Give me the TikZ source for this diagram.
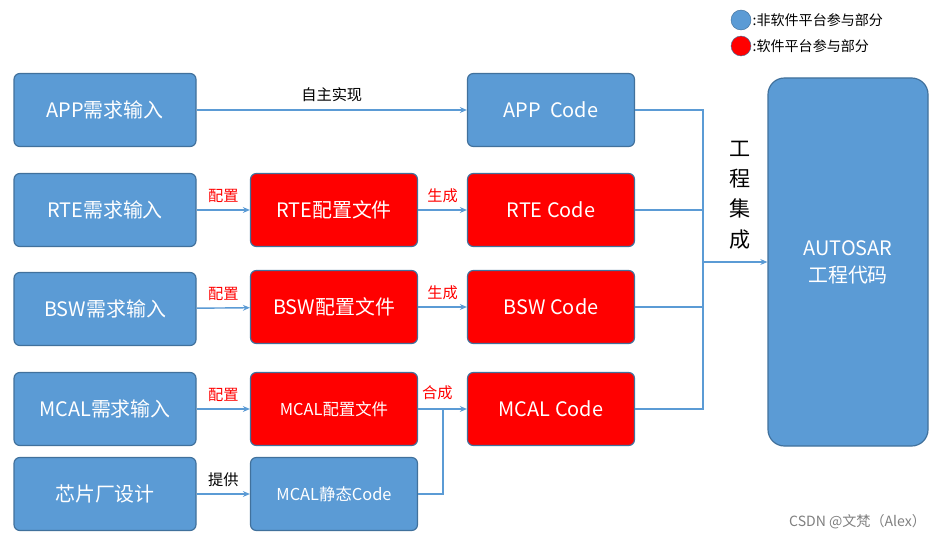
\documentclass[tikz,border=0pt]{standalone}
\usepackage{fontspec}
\setmainfont{Noto Sans CJK SC}
\usetikzlibrary{arrows.meta}
\definecolor{bl}{HTML}{5B9BD5}
\definecolor{bd}{HTML}{41719C}
\definecolor{ln}{HTML}{5B9BD5}
\begin{document}
\begin{tikzpicture}[x=0.03cm,y=-0.03cm,
 box/.style={draw=bd,line width=1pt,rounded corners=5pt,fill=bl,text=white,inner sep=0pt,font=\fontsize{17}{19}\selectfont},
 rbox/.style={box,fill=red},
 w1/.style={minimum width=182*0.03cm,minimum height=73*0.03cm},
 w2/.style={minimum width=167*0.03cm,minimum height=73*0.03cm},
 ar/.style={draw=ln,line width=1.2pt,-{Stealth[length=6pt,width=5pt]}},
 ln/.style={draw=ln,line width=1.2pt},
 lab/.style={font=\fontsize{13}{15}\selectfont},
 rlab/.style={lab,text=red}]
\useasboundingbox[fill=white] (0,0) rectangle (937,537);
\node[box,w1] (a1) at (105,110) {APP需求输入};
\node[box,w1] (a2) at (105,210) {RTE需求输入};
\node[box,w1] (a3) at (105,309) {BSW需求输入};
\node[box,w1] (a4) at (105,409) {MCAL需求输入};
\node[box,w1] (a5) at (105,494) {芯片厂设计};
\node[rbox,w2] (b2) at (334,210) {RTE配置文件};
\node[rbox,w2] (b3) at (334,307) {BSW配置文件};
\node[rbox,w2,font=\fontsize{14}{16}\selectfont] (b4) at (334,409) {MCAL配置文件};
\node[box,w2,font=\fontsize{14}{16}\selectfont] (b5) at (334,494) {MCAL静态Code};
\node[box,w2] (c1) at (551,110) {APP\ \ Code};
\node[rbox,w2] (c2) at (551,210) {RTE Code};
\node[rbox,w2] (c3) at (551,307) {BSW Code};
\node[rbox,w2] (c4) at (551,409) {MCAL Code};
\node[box,minimum width=160*0.03cm,minimum height=368*0.03cm,rounded corners=14pt,align=center,font=\fontsize{17}{23}\selectfont] (d) at (848,262) {AUTOSAR\\工程代码};
\draw[ar] (a1) -- node[lab,above=3pt,text=black]{自主实现} (c1);
\draw[ar] (a2) -- node[rlab,above=2pt]{配置} (b2);
\draw[ar] (a3) -- node[rlab,above=2pt]{配置} (b3);
\draw[ar] (a4) -- node[rlab,above=2pt]{配置} (b4);
\draw[ar] (a5) -- node[lab,above=2pt,text=black]{提供} (b5);
\draw[ar] (b2) -- node[rlab,above=2pt]{生成} (c2);
\draw[ar] (b3) -- node[rlab,above=2pt]{生成} (c3);
\coordinate (m) at (443,409);
\draw[ar] (b4) -- node[rlab,above=4pt,pos=0.3,xshift=4pt]{合成} (c4);
\draw[ln] (b5.east) -- (443,494) -- (m);
\coordinate (j) at (703,262);
\draw[ln] (c1.east) -- (703,110) -- (703,409) -- (c4.east);
\draw[ln] (c2.east) -- (703,210);
\draw[ln] (c3.east) -- (703,307);
\draw[ar] (j) -- (d);
\node[align=center,font=\fontsize{18}{26}\selectfont] (t) at (740,195) {工\\程\\集\\成};
\node[circle,fill=bl,draw=bd,minimum size=17pt,inner sep=0pt] (l1) at (741,20) {};
\node[circle,fill=red,draw=bd,minimum size=17pt,inner sep=0pt] (l2) at (741,46) {};
\node[anchor=west,font=\fontsize{12}{14}\selectfont,inner sep=1pt] (lt1) at (l1.east) {:非软件平台参与部分};
\node[anchor=west,font=\fontsize{12}{14}\selectfont,inner sep=1pt] (lt2) at (l2.east) {:软件平台参与部分};
\node[anchor=south east,text=gray,font=\fontsize{12}{14}\selectfont] (wm) at (930,533) {CSDN @文梵（Alex）};
\end{tikzpicture}
\end{document}
